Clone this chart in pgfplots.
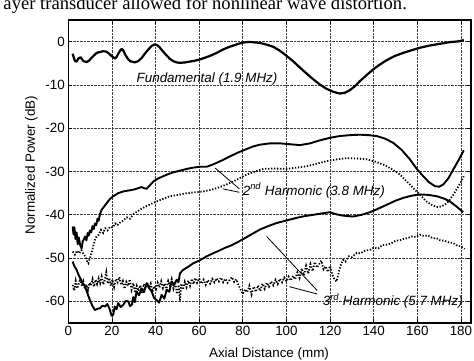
\documentclass[border=0pt]{standalone}
\usepackage{fontspec}
\setmainfont{Liberation Sans}
\newfontfamily\serifpaper{Liberation Serif}
\usepackage{pgfplots}
\pgfplotsset{compat=1.18}
\newcommand\f{\fontsize{13.4pt}{15pt}\selectfont}
\begin{document}
\begin{tikzpicture}
\useasboundingbox (-68.3pt,-37pt) rectangle (405.7pt,323pt);
\node[anchor=base west, inner sep=0pt, font=\serifpaper\fontsize{18.6pt}{20pt}\selectfont] at (-65pt,314pt) {ayer transducer allowed for nonlinear wave distortion.};
\begin{axis}[
  scale only axis, width=402.7pt, height=303pt,
  xmin=0, xmax=184.6, ymin=-65, ymax=5,
  xtick={0,20,...,180}, ytick={-60,-50,...,0},
  /pgf/number format/assume math mode=true,
  ticklabel style={font=\f},
  tick align=inside, major tick length=4pt,
  tick style={black, line width=0.8pt},
  axis line style={line width=1.3pt},
  grid=major, grid style={densely dotted, black!75, line width=0.7pt},
  clip=false,
]
% Fundamental
\addplot[black, line width=2.2pt, line join=round] coordinates {
(2,-2.8)(2.6,-3.8)(3.1,-4.5)(3.8,-4.6)(4.6,-3.9)(5.7,-3.6)(6.9,-4.5)(8.4,-4.7)(9.5,-4.4)(10.7,-3.7)(13,-2.6)(14.5,-2.4)(16,-2.2)(17.3,-2.3)(18.3,-2.6)(19.8,-3.3)(21.4,-3.9)(22.2,-3.5)(22.9,-2.8)(23.7,-2.1)(24.5,-1.7)(25.3,-2.1)(26,-2.9)(27.2,-3.9)(28.3,-4.5)(30.6,-4.8)(32,-4.5)(33.6,-3.8)(35.2,-2.7)(36.7,-1.8)(38.2,-1.0)(39.7,-0.6)(41,-0.9)(42,-1.4)(43.5,-2.3)(45.1,-3.2)(46.6,-4.0)(48.1,-4.5)(49.7,-4.8)(51.2,-4.9)(53.5,-4.8)(55.8,-4.6)(58,-4.4)(60.4,-4.1)(62.7,-3.7)(64.9,-3.3)(68,-2.6)(71,-1.8)(73.3,-1.3)(75.6,-0.9)(78,-0.5)(80.2,-0.2)(82,-0.1)(84,-0.1)(86,-0.2)(87.9,-0.3)(91,-0.7)(94,-1.2)(97,-2.1)(100.1,-3.3)(103,-4.5)(106.2,-6.0)(109.3,-7.4)(112.3,-8.7)(115.3,-9.9)(118.4,-10.9)(121.5,-11.6)(124.5,-12.0)(126.8,-11.8)(129.1,-11.2)(131.4,-10.3)(133.7,-9.1)(136.8,-7.7)(139.8,-6.4)(142.8,-5.3)(145.9,-4.3)(149.7,-3.3)(153.5,-2.6)(157.3,-2.0)(161.2,-1.4)(165.7,-0.9)(170.3,-0.5)(175,-0.1)(179.5,0.1)(181.3,0.4)
};
% 2nd harmonic solid
\addplot[black, line width=1.9pt, line join=round] coordinates {
(2,-42.7)(2.4,-44.5)(2.8,-42.9)(3.3,-45.6)(3.8,-44.1)(4.3,-46.8)(4.8,-45.2)(5.4,-46.9)(6.1,-47.8)(6.6,-46.1)(7.2,-45.6)(7.7,-45.0)(8.3,-45.9)(8.9,-44.2)(9.4,-44.8)(9.9,-43.6)(10.5,-44.1)(11.1,-42.6)(11.7,-43.3)(12.2,-42.0)(12.8,-42.4)(13.4,-40.9)(13.9,-41.4)(14.5,-39.9)(15.3,-38.8)(16.4,-38.1)(17.6,-37.3)(19,-36.4)(20.6,-35.7)(22.9,-35.0)(25.2,-34.6)(27.5,-34.4)(29.8,-34.2)(31.8,-33.9)(33.6,-33.6)(35,-33.9)(35.9,-34.0)(37.2,-33.3)(39,-32.3)(41.2,-31.6)(43.5,-31.1)(45.8,-30.6)(48.1,-30.2)(51.2,-29.8)(54.3,-29.4)(57.3,-29.1)(60.4,-28.9)(63.4,-28.9)(65.7,-28.5)(68,-28.0)(71,-27.3)(74.1,-26.5)(77.9,-25.6)(81.8,-24.8)(84.8,-24.2)(87.9,-23.8)(92.4,-23.5)(97,-23.5)(101.6,-23.7)(106.2,-23.9)(110.8,-23.5)(115.3,-22.8)(120,-22.2)(124.5,-21.8)(129.1,-21.6)(133.7,-21.5)(137.5,-21.6)(141.3,-21.8)(145.2,-22.4)(149,-23.4)(152.8,-25.0)(156.6,-27.2)(159.6,-29.3)(162.7,-31.1)(165.4,-32.5)(168.1,-33.4)(170,-33.5)(171.9,-33.0)(174.2,-31.6)(176.4,-29.6)(179,-27.3)(181.3,-25.1)
};
% 2nd harmonic dotted
\addplot[black, line width=1.8pt, dash pattern=on 1.3pt off 1.7pt] coordinates {
(2,-48.5)(3,-49.2)(4,-48.3)(5,-48.9)(6,-48.2)(7,-49.1)(8,-49.8)(8.7,-50.9)(9.2,-51.2)(9.9,-50.0)(10.7,-48.8)(11.5,-47.1)(12.2,-45.8)(13,-45.0)(14,-44.6)(15,-43.5)(16,-44.2)(17,-43.1)(18,-43.6)(19.1,-42.8)(20.5,-42.9)(21.5,-42.0)(22.5,-42.4)(23.7,-41.8)(25,-41.4)(26.8,-40.6)(28.3,-40.9)(30,-39.8)(32.9,-38.8)(35,-38.2)(37.5,-37.6)(40.5,-36.9)(43.5,-36.3)(46.6,-35.7)(50.5,-35.4)(54.3,-35.0)(58,-34.8)(61.9,-34.6)(65.7,-34.2)(69.5,-33.6)(72.5,-33.0)(75.6,-32.3)(78.7,-31.5)(81.8,-30.7)(85.6,-30.0)(89.4,-29.4)(94,-29.3)(100.1,-29.4)(104.7,-29.1)(109.3,-28.8)(113.9,-28.2)(118.4,-27.6)(123,-27.2)(127.6,-26.9)(132.2,-27.0)(136.8,-27.2)(140.6,-27.7)(144.4,-28.4)(148.2,-29.4)(152,-30.7)(155,-32.2)(158.1,-33.8)(161.2,-35.4)(164.2,-36.9)(166.5,-37.7)(168.8,-38.2)(170.7,-38.1)(172.6,-37.7)(174.5,-36.8)(176.4,-35.4)(179,-33.3)(181.3,-31.1)
};
% 3rd harmonic solid
\addplot[black, line width=1.9pt, line join=round] coordinates {
(2,-50.8)(2.8,-51.9)(3.8,-52.7)(4.6,-53.8)(5.4,-54.6)(6.5,-55.7)(7.7,-56.6)(8.8,-58.2)(9.9,-59.7)(11,-61.0)(12.2,-62.0)(13.4,-61.7)(14.5,-61.6)(15.6,-61.0)(16.8,-61.2)(17.9,-60.6)(19.1,-62.0)(19.8,-63.3)(20.6,-63.1)(21.3,-61.2)(22.1,-61.8)(22.9,-60.4)(24,-61.3)(25.2,-60.8)(26.3,-59.9)(27.5,-60.0)(28.3,-61.1)(29.1,-60.8)(29.8,-59.0)(30.5,-60.2)(31.3,-57.7)(32.4,-58.6)(33.6,-57.0)(34.7,-57.9)(35.9,-55.8)(37,-56.9)(38.2,-57.7)(39.3,-59.2)(40.5,-59.7)(41.6,-60.3)(42.8,-58.5)(44,-59.4)(45.1,-57.3)(46.3,-57.8)(47.4,-55.4)(48.5,-56.1)(49.7,-55.0)(50.5,-55.6)(51.2,-53.5)(52.7,-52.7)(55,-52.0)(57.3,-51.2)(60.4,-50.5)(63.4,-49.6)(66.4,-48.9)(69.5,-48.2)(72,-47.6)(74.1,-47.2)(77,-46.5)(80.2,-45.6)(84,-44.5)(87.9,-43.4)(91.7,-42.6)(95.5,-41.9)(100.1,-41.3)(104.7,-40.7)(108.5,-40.3)(112.3,-40.0)(116.1,-39.7)(119.9,-39.4)(123,-39.9)(126,-40.2)(130.6,-40.4)(134.5,-40.0)(138.3,-39.4)(142,-38.6)(145.9,-37.7)(149.7,-36.8)(153.5,-36.1)(157.3,-35.6)(161.2,-35.3)(165,-35.4)(168.8,-35.7)(172,-36.2)(174.9,-36.9)(178,-38.1)(181,-39.4)
};
% 3rd harmonic dotted
\addplot[black, line width=1.8pt, dash pattern=on 1.3pt off 1.7pt] coordinates {
(2,-56.2)(2.7,-57.5)(3.4,-55.3)(4.1,-57.0)(4.8,-56.0)(5.5,-54.8)(6.2,-56.5)(6.9,-55.4)(7.6,-57.2)(8.3,-56.1)(9,-57.4)(9.7,-55.7)(10.4,-56.3)(11.1,-54.9)(11.8,-56.6)(12.5,-55.0)(13.2,-56.0)(13.9,-54.7)(14.6,-55.8)(15.3,-54.3)(16,-56.1)(16.7,-55.1)(17.4,-53.3)(18.1,-55.9)(18.8,-54.6)(19.5,-56.4)(20.2,-55.0)(21,-56.7)(21.8,-54.8)(22.6,-55.6)(23.4,-54.4)(24.2,-56.2)(25,-55.3)(25.8,-57.1)(26.6,-55.5)(27.4,-56.4)(28.2,-54.9)(29,-57.3)(29.8,-55.8)(30.6,-58.0)(31.4,-56.4)(32.2,-57.6)(33,-56.3)(33.8,-58.2)(34.6,-56.0)(35.4,-57.0)(36.2,-55.6)(37,-56.9)(37.8,-55.9)(38.6,-57.8)(39.4,-56.5)(40.2,-57.2)(41,-55.7)(41.8,-56.8)(42.6,-55.4)(43.4,-56.9)(44.2,-55.9)(45,-57.1)(45.8,-55.3)(46.6,-56.4)(47.4,-54.9)(48.2,-57.0)(49,-55.5)(49.8,-58.3)(50.6,-56.2)(51.2,-59.8)(51.8,-55.9)(52.6,-57.3)(53.4,-55.5)(54.2,-56.7)(55,-55.2)(55.8,-56.4)(56.6,-54.8)(57.4,-56.0)(58.2,-54.6)(59,-55.7)(60,-54.7)(61,-55.9)(62,-55.0)(63,-56.2)(64,-55.1)(65,-55.9)(66,-54.8)(67,-55.6)(68,-54.7)(69,-55.4)(70,-54.5)(71,-55.6)(72,-54.8)(73,-55.7)(74,-55.0)(75,-54.4)(76,-55.5)(77,-54.9)(78,-56.2)(79,-57.3)(80,-58.3)(81,-57.2)(82,-57.9)(83,-56.4)(84,-58.4)(85,-56.6)(86,-57.8)(87,-56.3)(88,-57.6)(89,-55.9)(90,-57.1)(91,-55.7)(92,-56.6)(93,-55.4)(94,-56.3)(95,-55.0)(96,-56.0)(97,-54.8)(98,-55.6)(99,-54.5)(100,-55.4)(101,-54.3)(102,-55.2)(103,-54.1)(104,-54.9)(105,-53.3)(106,-54.6)(107,-52.4)(108,-54.0)(109,-51.8)(110,-53.6)(111,-51.4)(112,-53.0)(113,-50.9)(114,-52.2)(115,-51.4)(116,-50.6)(117,-52.6)(118,-51.9)(119,-53.2)(120,-51.8)(121,-53.8)(122,-54.9)(123,-55.4)(124,-53.2)(125,-51.5)(126,-50.4)(127,-50.8)(128.5,-49.6)(130,-49.8)(132.2,-48.8)(134,-48.9)(136,-48.3)(138.3,-48.1)(140,-47.6)(142,-47.8)(144,-47.0)(145.9,-46.9)(148,-46.6)(150,-46.0)(152,-45.9)(153.5,-45.6)(155.5,-45.4)(157.5,-45.0)(159.5,-45.1)(161.2,-44.6)(163,-44.9)(165,-44.8)(167,-45.4)(168.8,-45.4)(170.5,-45.9)(172.5,-46.0)(174.5,-46.4)(176.4,-46.5)(178.5,-47.2)(180,-47.3)(181.7,-47.9)
};
% annotations
\node[font=\f\itshape, inner sep=0pt] at (axis cs:63.6,-8.56) {Fundamental (1.9 MHz)};
\node[font=\f\itshape, inner sep=0pt, anchor=west] at (axis cs:79.9,-34.4) {2\textsuperscript{nd} Harmonic (3.8 MHz)};
\node[font=\f\itshape, inner sep=0pt, anchor=west] at (axis cs:116.6,-59.9) {3\textsuperscript{rd} Harmonic (5.7 MHz)};
\draw[black, line width=0.8pt] (axis cs:67.3,-29.2) -- (axis cs:78.4,-34.0);
\draw[black, line width=0.8pt] (axis cs:70.8,-34.0) -- (axis cs:78.4,-34.8);
\draw[black, line width=0.8pt] (axis cs:90.9,-45) -- (axis cs:114.1,-57.5);
\draw[black, line width=0.8pt] (axis cs:101.3,-56.6) -- (axis cs:114.1,-58.3);
\end{axis}
\node[anchor=base, font=\f] at (200.7pt,-34pt) {Axial Distance (mm)};
\node[rotate=90, anchor=center, font=\f] at (-37pt,158pt) {Normalized Power (dB)};
\end{tikzpicture}
\end{document}
